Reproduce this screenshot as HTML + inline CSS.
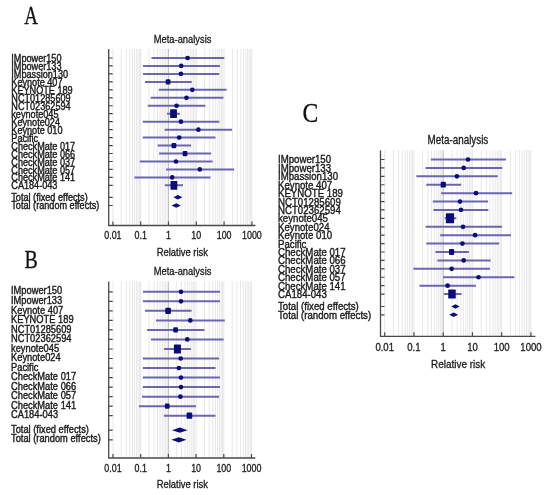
<!DOCTYPE html><html><head><meta charset="utf-8"><style>html,body{margin:0;padding:0;background:#fff;width:550px;height:495px;overflow:hidden}svg{display:block;filter:blur(0.4px)}</style></head><body>
<svg width="550" height="495" viewBox="0 0 550 495">
<rect width="550" height="495" fill="#fff"/>
<path d="M112.90 49V225.5 M121.27 49V225.5 M126.16 49V225.5 M129.64 49V225.5 M132.33 49V225.5 M134.53 49V225.5 M136.39 49V225.5 M138.01 49V225.5 M139.43 49V225.5 M140.70 49V225.5 M149.07 49V225.5 M153.96 49V225.5 M157.44 49V225.5 M160.13 49V225.5 M162.33 49V225.5 M164.19 49V225.5 M165.81 49V225.5 M167.23 49V225.5 M168.50 49V225.5 M176.87 49V225.5 M181.76 49V225.5 M185.24 49V225.5 M187.93 49V225.5 M190.13 49V225.5 M191.99 49V225.5 M193.61 49V225.5 M195.03 49V225.5 M196.30 49V225.5 M204.67 49V225.5 M209.56 49V225.5 M213.04 49V225.5 M215.73 49V225.5 M217.93 49V225.5 M219.79 49V225.5 M221.41 49V225.5 M222.83 49V225.5 M224.10 49V225.5 M232.47 49V225.5 M237.36 49V225.5 M240.84 49V225.5 M243.53 49V225.5 M245.73 49V225.5 M247.59 49V225.5 M249.21 49V225.5 M250.63 49V225.5 M251.90 49V225.5" stroke="#e8e8e8" stroke-width="1" fill="none"/>
<path d="M168.50 49V225.5" stroke="#c0c0c6" stroke-width="1" fill="none"/>
<path d="M108.7 49V225.5H255.5" stroke="#4a4a4a" stroke-width="1.3" fill="none"/>
<path d="M108.7 58.00h4 M108.7 65.96h4 M108.7 73.92h4 M108.7 81.88h4 M108.7 89.84h4 M108.7 97.80h4 M108.7 105.76h4 M108.7 113.72h4 M108.7 121.68h4 M108.7 129.64h4 M108.7 137.60h4 M108.7 145.56h4 M108.7 153.52h4 M108.7 161.48h4 M108.7 169.44h4 M108.7 177.40h4 M108.7 185.36h4 M108.7 197.30h4 M108.7 205.50h4 M112.90 225.5v-4 M140.70 225.5v-4 M168.50 225.5v-4 M196.30 225.5v-4 M224.10 225.5v-4 M251.90 225.5v-4" stroke="#4a4a4a" stroke-width="1.2" fill="none"/>
<path d="M151.50 58.00H224.30 M143.10 65.96H219.90 M143.10 73.92H219.30 M144.90 81.88H191.70 M158.80 89.84H226.60 M150.70 97.80H223.40 M147.80 105.76H205.40 M167.00 113.72H180.00 M142.80 121.68H219.30 M164.60 129.64H232.10 M142.80 137.60H215.50 M157.70 145.56H191.10 M159.10 153.52H211.20 M139.90 161.48H212.60 M166.10 169.44H234.20 M134.40 177.40H210.60 M164.90 185.36H183.00" stroke="#6c66b2" stroke-width="2.0" fill="none"/>
<circle cx="187.60" cy="58.00" r="2.35" fill="#0c0c78"/>
<circle cx="181.20" cy="65.96" r="2.35" fill="#0c0c78"/>
<circle cx="180.90" cy="73.92" r="2.35" fill="#0c0c78"/>
<rect x="165.72" y="79.25" width="4.75" height="5.25" rx="1.2" fill="#0c0c78"/>
<circle cx="192.30" cy="89.84" r="2.35" fill="#0c0c78"/>
<circle cx="186.50" cy="97.80" r="2.35" fill="#0c0c78"/>
<circle cx="176.60" cy="105.76" r="2.35" fill="#0c0c78"/>
<rect x="170.11" y="109.37" width="6.79" height="8.7" rx="0.6" fill="#0c0c78"/>
<circle cx="180.90" cy="121.68" r="2.35" fill="#0c0c78"/>
<circle cx="198.40" cy="129.64" r="2.35" fill="#0c0c78"/>
<circle cx="179.20" cy="137.60" r="2.35" fill="#0c0c78"/>
<rect x="171.53" y="142.94" width="4.75" height="5.25" rx="1.2" fill="#0c0c78"/>
<rect x="182.62" y="150.89" width="4.75" height="5.25" rx="1.2" fill="#0c0c78"/>
<circle cx="176.00" cy="161.48" r="2.35" fill="#0c0c78"/>
<circle cx="199.80" cy="169.44" r="2.35" fill="#0c0c78"/>
<circle cx="172.20" cy="177.40" r="2.35" fill="#0c0c78"/>
<rect x="170.51" y="181.01" width="6.79" height="8.7" rx="0.6" fill="#0c0c78"/>
<path d="M173.40 197.30L177.90 195.10L182.40 197.30L177.90 199.50Z" fill="#0c0c78"/>
<path d="M171.60 205.50L176.25 203.30L180.90 205.50L176.25 207.70Z" fill="#0c0c78"/>
<g transform="translate(11.3,0) scale(0.887,1)" font-family='"Liberation Sans", sans-serif' font-size="10.3" fill="#1a1a1a" stroke="#1a1a1a" stroke-width="0.4">
<text x="0" y="62.10">IMpower150</text>
<text x="0" y="70.06">IMpower133</text>
<text x="0" y="78.02">IMpassion130</text>
<text x="0" y="85.98">Keynote 407</text>
<text x="0" y="93.94">KEYNOTE 189</text>
<text x="0" y="101.90">NCT01285609</text>
<text x="0" y="109.86">NCT02362594</text>
<text x="0" y="117.82">keynote045</text>
<text x="0" y="125.78">Keynote024</text>
<text x="0" y="133.74">Keynote 010</text>
<text x="0" y="141.70">Pacific</text>
<text x="0" y="149.66">CheckMate 017</text>
<text x="0" y="157.62">CheckMate 066</text>
<text x="0" y="165.58">CheckMate 037</text>
<text x="0" y="173.54">CheckMate 057</text>
<text x="0" y="181.50">CheckMate 141</text>
<text x="0" y="189.46">CA184-043</text>
<text x="0" y="200.60">Total (fixed effects)</text>
<text x="0" y="208.80">Total (random effects)</text>
</g>
<g transform="translate(112.90,239) scale(0.87,1)"><text x="0" y="0" text-anchor="middle" font-family='"Liberation Sans", sans-serif' font-size="10.2" fill="#1a1a1a" stroke="#1a1a1a" stroke-width="0.3">0.01</text></g>
<g transform="translate(140.70,239) scale(0.87,1)"><text x="0" y="0" text-anchor="middle" font-family='"Liberation Sans", sans-serif' font-size="10.2" fill="#1a1a1a" stroke="#1a1a1a" stroke-width="0.3">0.1</text></g>
<g transform="translate(168.50,239) scale(0.87,1)"><text x="0" y="0" text-anchor="middle" font-family='"Liberation Sans", sans-serif' font-size="10.2" fill="#1a1a1a" stroke="#1a1a1a" stroke-width="0.3">1</text></g>
<g transform="translate(196.30,239) scale(0.87,1)"><text x="0" y="0" text-anchor="middle" font-family='"Liberation Sans", sans-serif' font-size="10.2" fill="#1a1a1a" stroke="#1a1a1a" stroke-width="0.3">10</text></g>
<g transform="translate(224.10,239) scale(0.87,1)"><text x="0" y="0" text-anchor="middle" font-family='"Liberation Sans", sans-serif' font-size="10.2" fill="#1a1a1a" stroke="#1a1a1a" stroke-width="0.3">100</text></g>
<g transform="translate(251.90,239) scale(0.87,1)"><text x="0" y="0" text-anchor="middle" font-family='"Liberation Sans", sans-serif' font-size="10.2" fill="#1a1a1a" stroke="#1a1a1a" stroke-width="0.3">1000</text></g>
<g transform="translate(153.8,42.5) scale(0.835,1)"><text x="0" y="0" font-family='"Liberation Sans", sans-serif' font-size="11.2" fill="#1a1a1a" stroke="#1a1a1a" stroke-width="0.3">Meta-analysis</text></g>
<g transform="translate(156.7,255.5) scale(0.89,1)"><text x="0" y="0" font-family='"Liberation Sans", sans-serif' font-size="10.6" fill="#1a1a1a" stroke="#1a1a1a" stroke-width="0.3">Relative risk</text></g>
<g transform="translate(24.2,23.5) scale(0.76,1)"><text x="0" y="0" font-family='"Liberation Serif", serif' font-size="25" fill="#111" stroke="#111" stroke-width="0.3">A</text></g>
<path d="M113.00 281.4V458 M121.34 281.4V458 M126.22 281.4V458 M129.68 281.4V458 M132.36 281.4V458 M134.55 281.4V458 M136.41 281.4V458 M138.02 281.4V458 M139.43 281.4V458 M140.70 281.4V458 M149.04 281.4V458 M153.92 281.4V458 M157.38 281.4V458 M160.06 281.4V458 M162.25 281.4V458 M164.11 281.4V458 M165.72 281.4V458 M167.13 281.4V458 M168.40 281.4V458 M176.74 281.4V458 M181.62 281.4V458 M185.08 281.4V458 M187.76 281.4V458 M189.95 281.4V458 M191.81 281.4V458 M193.42 281.4V458 M194.83 281.4V458 M196.10 281.4V458 M204.44 281.4V458 M209.32 281.4V458 M212.78 281.4V458 M215.46 281.4V458 M217.65 281.4V458 M219.51 281.4V458 M221.12 281.4V458 M222.53 281.4V458 M223.80 281.4V458 M232.14 281.4V458 M237.02 281.4V458 M240.48 281.4V458 M243.16 281.4V458 M245.35 281.4V458 M247.21 281.4V458 M248.82 281.4V458 M250.23 281.4V458 M251.50 281.4V458" stroke="#e8e8e8" stroke-width="1" fill="none"/>
<path d="M168.40 281.4V458" stroke="#c0c0c6" stroke-width="1" fill="none"/>
<path d="M108.7 281.4V458H255.3" stroke="#4a4a4a" stroke-width="1.3" fill="none"/>
<path d="M108.7 291.80h4 M108.7 301.33h4 M108.7 310.86h4 M108.7 320.39h4 M108.7 329.92h4 M108.7 339.45h4 M108.7 348.98h4 M108.7 358.51h4 M108.7 368.04h4 M108.7 377.57h4 M108.7 387.10h4 M108.7 396.63h4 M108.7 406.16h4 M108.7 415.69h4 M108.7 430.20h4 M108.7 439.80h4 M113.00 458v-4 M140.70 458v-4 M168.40 458v-4 M196.10 458v-4 M223.80 458v-4 M251.50 458v-4" stroke="#4a4a4a" stroke-width="1.2" fill="none"/>
<path d="M142.90 291.80H220.00 M142.90 301.33H220.00 M145.00 310.86H191.50 M156.10 320.39H224.80 M147.10 329.92H204.40 M151.00 339.45H223.60 M163.90 348.98H190.90 M142.90 358.51H219.10 M142.90 368.04H215.50 M142.90 377.57H220.00 M142.90 387.10H220.00 M142.00 396.63H219.10 M139.00 406.16H196.00 M163.90 415.69H215.50" stroke="#6c66b2" stroke-width="2.0" fill="none"/>
<circle cx="181.00" cy="291.80" r="2.35" fill="#0c0c78"/>
<circle cx="181.00" cy="301.33" r="2.35" fill="#0c0c78"/>
<rect x="165.25" y="307.71" width="5.70" height="6.30" rx="1.2" fill="#0c0c78"/>
<circle cx="190.30" cy="320.39" r="2.35" fill="#0c0c78"/>
<rect x="173.22" y="327.30" width="4.75" height="5.25" rx="1.2" fill="#0c0c78"/>
<circle cx="187.30" cy="339.45" r="2.35" fill="#0c0c78"/>
<rect x="173.89" y="344.48" width="7.02" height="9" rx="0.6" fill="#0c0c78"/>
<circle cx="180.70" cy="358.51" r="2.35" fill="#0c0c78"/>
<circle cx="178.90" cy="368.04" r="2.35" fill="#0c0c78"/>
<circle cx="181.00" cy="377.57" r="2.35" fill="#0c0c78"/>
<circle cx="181.00" cy="387.10" r="2.35" fill="#0c0c78"/>
<circle cx="180.40" cy="396.63" r="2.35" fill="#0c0c78"/>
<rect x="164.82" y="403.53" width="4.75" height="5.25" rx="1.2" fill="#0c0c78"/>
<rect x="186.55" y="412.54" width="5.70" height="6.30" rx="1.2" fill="#0c0c78"/>
<path d="M172.00 430.20L179.80 427.60L187.60 430.20L179.80 432.80Z" fill="#0c0c78"/>
<path d="M171.40 439.80L178.90 437.20L186.40 439.80L178.90 442.40Z" fill="#0c0c78"/>
<g transform="translate(11,0) scale(0.878,1)" font-family='"Liberation Sans", sans-serif' font-size="10.6" fill="#1a1a1a" stroke="#1a1a1a" stroke-width="0.4">
<text x="0" y="294.50">IMpower150</text>
<text x="0" y="304.03">IMpower133</text>
<text x="0" y="313.56">Keynote 407</text>
<text x="0" y="323.09">KEYNOTE 189</text>
<text x="0" y="332.62">NCT01285609</text>
<text x="0" y="342.15">NCT02362594</text>
<text x="0" y="351.68">keynote045</text>
<text x="0" y="361.21">Keynote024</text>
<text x="0" y="370.74">Pacific</text>
<text x="0" y="380.27">CheckMate 017</text>
<text x="0" y="389.80">CheckMate 066</text>
<text x="0" y="399.33">CheckMate 057</text>
<text x="0" y="408.86">CheckMate 141</text>
<text x="0" y="418.39">CA184-043</text>
<text x="0" y="432.90">Total (fixed effects)</text>
<text x="0" y="442.50">Total (random effects)</text>
</g>
<g transform="translate(113.00,471.7) scale(0.87,1)"><text x="0" y="0" text-anchor="middle" font-family='"Liberation Sans", sans-serif' font-size="10.2" fill="#1a1a1a" stroke="#1a1a1a" stroke-width="0.3">0.01</text></g>
<g transform="translate(140.70,471.7) scale(0.87,1)"><text x="0" y="0" text-anchor="middle" font-family='"Liberation Sans", sans-serif' font-size="10.2" fill="#1a1a1a" stroke="#1a1a1a" stroke-width="0.3">0.1</text></g>
<g transform="translate(168.40,471.7) scale(0.87,1)"><text x="0" y="0" text-anchor="middle" font-family='"Liberation Sans", sans-serif' font-size="10.2" fill="#1a1a1a" stroke="#1a1a1a" stroke-width="0.3">1</text></g>
<g transform="translate(196.10,471.7) scale(0.87,1)"><text x="0" y="0" text-anchor="middle" font-family='"Liberation Sans", sans-serif' font-size="10.2" fill="#1a1a1a" stroke="#1a1a1a" stroke-width="0.3">10</text></g>
<g transform="translate(223.80,471.7) scale(0.87,1)"><text x="0" y="0" text-anchor="middle" font-family='"Liberation Sans", sans-serif' font-size="10.2" fill="#1a1a1a" stroke="#1a1a1a" stroke-width="0.3">100</text></g>
<g transform="translate(251.50,471.7) scale(0.87,1)"><text x="0" y="0" text-anchor="middle" font-family='"Liberation Sans", sans-serif' font-size="10.2" fill="#1a1a1a" stroke="#1a1a1a" stroke-width="0.3">1000</text></g>
<g transform="translate(153.8,275.4) scale(0.835,1)"><text x="0" y="0" font-family='"Liberation Sans", sans-serif' font-size="11.2" fill="#1a1a1a" stroke="#1a1a1a" stroke-width="0.3">Meta-analysis</text></g>
<g transform="translate(156.7,488.1) scale(0.89,1)"><text x="0" y="0" font-family='"Liberation Sans", sans-serif' font-size="10.6" fill="#1a1a1a" stroke="#1a1a1a" stroke-width="0.3">Relative risk</text></g>
<g transform="translate(24.6,268.1) scale(0.8,1)"><text x="0" y="0" font-family='"Liberation Serif", serif' font-size="25" fill="#111" stroke="#111" stroke-width="0.3">B</text></g>
<path d="M384.70 150.3V336.3 M393.51 150.3V336.3 M398.66 150.3V336.3 M402.31 150.3V336.3 M405.14 150.3V336.3 M407.46 150.3V336.3 M409.42 150.3V336.3 M411.12 150.3V336.3 M412.61 150.3V336.3 M413.95 150.3V336.3 M422.76 150.3V336.3 M427.91 150.3V336.3 M431.56 150.3V336.3 M434.39 150.3V336.3 M436.71 150.3V336.3 M438.67 150.3V336.3 M440.37 150.3V336.3 M441.86 150.3V336.3 M443.20 150.3V336.3 M452.01 150.3V336.3 M457.16 150.3V336.3 M460.81 150.3V336.3 M463.64 150.3V336.3 M465.96 150.3V336.3 M467.92 150.3V336.3 M469.62 150.3V336.3 M471.11 150.3V336.3 M472.45 150.3V336.3 M481.26 150.3V336.3 M486.41 150.3V336.3 M490.06 150.3V336.3 M492.89 150.3V336.3 M495.21 150.3V336.3 M497.17 150.3V336.3 M498.87 150.3V336.3 M500.36 150.3V336.3 M501.70 150.3V336.3 M510.51 150.3V336.3 M515.66 150.3V336.3 M519.31 150.3V336.3 M522.14 150.3V336.3 M524.46 150.3V336.3 M526.42 150.3V336.3 M528.12 150.3V336.3 M529.61 150.3V336.3 M530.95 150.3V336.3" stroke="#e8e8e8" stroke-width="1" fill="none"/>
<path d="M443.20 150.3V336.3" stroke="#c0c0c6" stroke-width="1" fill="none"/>
<path d="M380.5 150.3V336.3H535.4" stroke="#4a4a4a" stroke-width="1.3" fill="none"/>
<path d="M380.5 159.50h4 M380.5 167.91h4 M380.5 176.32h4 M380.5 184.73h4 M380.5 193.14h4 M380.5 201.55h4 M380.5 209.96h4 M380.5 218.37h4 M380.5 226.78h4 M380.5 235.19h4 M380.5 243.60h4 M380.5 252.01h4 M380.5 260.42h4 M380.5 268.83h4 M380.5 277.24h4 M380.5 285.65h4 M380.5 294.06h4 M380.5 306.50h4 M380.5 314.80h4 M384.70 336.3v-4 M413.95 336.3v-4 M443.20 336.3v-4 M472.45 336.3v-4 M501.70 336.3v-4 M530.95 336.3v-4" stroke="#4a4a4a" stroke-width="1.2" fill="none"/>
<path d="M430.90 159.50H506.00 M425.60 167.91H502.30 M416.40 176.32H497.70 M426.30 184.73H461.20 M441.10 193.14H512.20 M432.80 201.55H488.10 M433.40 209.96H488.40 M444.70 218.37H456.30 M425.60 226.78H502.00 M440.20 235.19H511.00 M426.30 243.60H499.20 M435.50 252.01H468.90 M437.40 260.42H490.60 M413.30 268.83H490.00 M443.00 277.24H514.40 M419.50 285.65H476.00 M443.80 294.06H461.50" stroke="#6c66b2" stroke-width="2.0" fill="none"/>
<circle cx="468.00" cy="159.50" r="2.35" fill="#0c0c78"/>
<circle cx="463.70" cy="167.91" r="2.35" fill="#0c0c78"/>
<circle cx="456.90" cy="176.32" r="2.35" fill="#0c0c78"/>
<rect x="440.69" y="181.84" width="5.22" height="5.78" rx="1.2" fill="#0c0c78"/>
<circle cx="476.00" cy="193.14" r="2.35" fill="#0c0c78"/>
<circle cx="460.00" cy="201.55" r="2.35" fill="#0c0c78"/>
<circle cx="460.90" cy="209.96" r="2.35" fill="#0c0c78"/>
<rect x="445.85" y="213.37" width="8.30" height="10" rx="0.6" fill="#0c0c78"/>
<circle cx="463.00" cy="226.78" r="2.35" fill="#0c0c78"/>
<circle cx="475.10" cy="235.19" r="2.35" fill="#0c0c78"/>
<circle cx="462.40" cy="243.60" r="2.35" fill="#0c0c78"/>
<rect x="448.99" y="249.12" width="5.22" height="5.78" rx="1.2" fill="#0c0c78"/>
<circle cx="463.70" cy="260.42" r="2.35" fill="#0c0c78"/>
<circle cx="451.60" cy="268.83" r="2.35" fill="#0c0c78"/>
<circle cx="478.50" cy="277.24" r="2.35" fill="#0c0c78"/>
<circle cx="447.60" cy="285.65" r="2.35" fill="#0c0c78"/>
<rect x="448.26" y="289.56" width="7.47" height="9" rx="0.6" fill="#0c0c78"/>
<path d="M451.30 306.50L455.45 304.30L459.60 306.50L455.45 308.70Z" fill="#0c0c78"/>
<path d="M449.10 314.80L453.60 312.60L458.10 314.80L453.60 317.00Z" fill="#0c0c78"/>
<g transform="translate(278,0) scale(0.855,1)" font-family='"Liberation Sans", sans-serif' font-size="11.3" fill="#1a1a1a" stroke="#1a1a1a" stroke-width="0.4">
<text x="0" y="163.50">IMpower150</text>
<text x="0" y="171.91">IMpower133</text>
<text x="0" y="180.32">IMpassion130</text>
<text x="0" y="188.73">Keynote 407</text>
<text x="0" y="197.14">KEYNOTE 189</text>
<text x="0" y="205.55">NCT01285609</text>
<text x="0" y="213.96">NCT02362594</text>
<text x="0" y="222.37">keynote045</text>
<text x="0" y="230.78">Keynote024</text>
<text x="0" y="239.19">Keynote 010</text>
<text x="0" y="247.60">Pacific</text>
<text x="0" y="256.01">CheckMate 017</text>
<text x="0" y="264.42">CheckMate 066</text>
<text x="0" y="272.83">CheckMate 037</text>
<text x="0" y="281.24">CheckMate 057</text>
<text x="0" y="289.65">CheckMate 141</text>
<text x="0" y="298.06">CA184-043</text>
<text x="0" y="310.50">Total (fixed effects)</text>
<text x="0" y="318.80">Total (random effects)</text>
</g>
<g transform="translate(384.70,350.5) scale(0.87,1)"><text x="0" y="0" text-anchor="middle" font-family='"Liberation Sans", sans-serif' font-size="11" fill="#1a1a1a" stroke="#1a1a1a" stroke-width="0.3">0.01</text></g>
<g transform="translate(413.95,350.5) scale(0.87,1)"><text x="0" y="0" text-anchor="middle" font-family='"Liberation Sans", sans-serif' font-size="11" fill="#1a1a1a" stroke="#1a1a1a" stroke-width="0.3">0.1</text></g>
<g transform="translate(443.20,350.5) scale(0.87,1)"><text x="0" y="0" text-anchor="middle" font-family='"Liberation Sans", sans-serif' font-size="11" fill="#1a1a1a" stroke="#1a1a1a" stroke-width="0.3">1</text></g>
<g transform="translate(472.45,350.5) scale(0.87,1)"><text x="0" y="0" text-anchor="middle" font-family='"Liberation Sans", sans-serif' font-size="11" fill="#1a1a1a" stroke="#1a1a1a" stroke-width="0.3">10</text></g>
<g transform="translate(501.70,350.5) scale(0.87,1)"><text x="0" y="0" text-anchor="middle" font-family='"Liberation Sans", sans-serif' font-size="11" fill="#1a1a1a" stroke="#1a1a1a" stroke-width="0.3">100</text></g>
<g transform="translate(530.95,350.5) scale(0.87,1)"><text x="0" y="0" text-anchor="middle" font-family='"Liberation Sans", sans-serif' font-size="11" fill="#1a1a1a" stroke="#1a1a1a" stroke-width="0.3">1000</text></g>
<g transform="translate(427.6,143.7) scale(0.82,1)"><text x="0" y="0" font-family='"Liberation Sans", sans-serif' font-size="12" fill="#1a1a1a" stroke="#1a1a1a" stroke-width="0.3">Meta-analysis</text></g>
<g transform="translate(431,368) scale(0.906,1)"><text x="0" y="0" font-family='"Liberation Sans", sans-serif' font-size="11" fill="#1a1a1a" stroke="#1a1a1a" stroke-width="0.3">Relative risk</text></g>
<g transform="translate(302.5,122.1) scale(0.86,1)"><text x="0" y="0" font-family='"Liberation Serif", serif' font-size="27.5" fill="#111" stroke="#111" stroke-width="0.3">C</text></g>
</svg></body></html>
